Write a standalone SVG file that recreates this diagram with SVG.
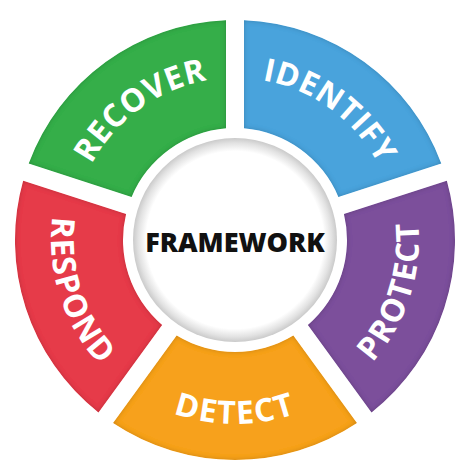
<svg xmlns="http://www.w3.org/2000/svg" width="474" height="465" viewBox="0 0 474 465">
  <defs>
    <style>
      .lbl { font-family: "Open Sans", "Noto Sans", "Liberation Sans", sans-serif; font-weight: 700; font-size: 32px; fill: #ffffff; letter-spacing: 0.5px; }
      .lbl.in { letter-spacing: 1.5px; }
      .center { font-family: "Open Sans", "Noto Sans", "Liberation Sans", sans-serif; font-weight: 800; font-size: 27px; fill: #111111; }
      .seg { filter: url(#bevel); }
    </style>
    <filter id="bevel" x="-5%" y="-5%" width="110%" height="110%">
      <feGaussianBlur in="SourceAlpha" stdDeviation="2.5" result="b"/>
      <feComposite in="SourceAlpha" in2="b" operator="arithmetic" k2="1" k3="-1" result="edge"/>
      <feFlood flood-color="#000000" flood-opacity="0.4"/>
      <feComposite in2="edge" operator="in" result="shadow"/>
      <feMerge><feMergeNode in="SourceGraphic"/><feMergeNode in="shadow"/></feMerge>
    </filter>
    <radialGradient id="hub" cx="50%" cy="50%" r="50%">
      <stop offset="0%" stop-color="#ffffff"/>
      <stop offset="87%" stop-color="#ffffff"/>
      <stop offset="95%" stop-color="#e2e2e2"/>
      <stop offset="100%" stop-color="#cacaca"/>
    </radialGradient>
    <path id="tp-identify" d="M 223.70 78.40 A 162 162 0 0 1 392.19 200.81"/>
    <path id="tp-recover" d="M 77.81 200.81 A 162 162 0 0 1 246.30 78.40"/>
    <path id="tp-protect" d="M 332.50 396.04 A 184 184 0 0 0 405.60 171.07"/>
    <path id="tp-detect" d="M 116.73 380.95 A 184 184 0 0 0 353.27 380.95"/>
    <path id="tp-respond" d="M 64.40 171.07 A 184 184 0 0 0 137.50 396.04"/>
  </defs>
  <rect width="474" height="465" fill="#ffffff"/>

  <g id="identify">
    <path class="seg" fill="#49a3dc" d="M 244.00 20.18 A 220 220 0 0 1 441.27 163.52 L 338.39 196.94 A 112 112 0 0 0 244.00 128.36 Z"/>
    <text class="lbl"><textPath href="#tp-identify" startOffset="50%" text-anchor="middle">IDENTIFY</textPath></text>
  </g>
  <g id="protect">
    <path class="seg" fill="#7b4f9b" d="M 446.84 180.64 A 220 220 0 0 1 371.52 412.52 L 307.92 325.01 A 112 112 0 0 0 343.96 214.06 Z"/>
    <text class="lbl in"><textPath href="#tp-protect" startOffset="50%" text-anchor="middle">PROTECT</textPath></text>
  </g>
  <g id="detect">
    <path class="seg" fill="#f7a11e" d="M 356.92 423.12 A 220 220 0 0 1 113.08 423.12 L 176.67 335.61 A 112 112 0 0 0 293.33 335.61 Z"/>
    <text class="lbl in"><textPath href="#tp-detect" startOffset="50%" text-anchor="middle">DETECT</textPath></text>
  </g>
  <g id="respond">
    <path class="seg" fill="#e63a48" d="M 98.48 412.52 A 220 220 0 0 1 23.16 180.64 L 126.04 214.06 A 112 112 0 0 0 162.08 325.01 Z"/>
    <text class="lbl in"><textPath href="#tp-respond" startOffset="50%" text-anchor="middle">RESPOND</textPath></text>
  </g>
  <g id="recover">
    <path class="seg" fill="#35ae4a" d="M 28.73 163.52 A 220 220 0 0 1 226.00 20.18 L 226.00 128.36 A 112 112 0 0 0 131.61 196.94 Z"/>
    <text class="lbl"><textPath href="#tp-recover" startOffset="50%" text-anchor="middle">RECOVER</textPath></text>
  </g>

  <g id="framework">
    <circle cx="235" cy="240" r="102" fill="url(#hub)"/>
    <text class="center" x="235" y="252" text-anchor="middle">FRAMEWORK</text>
  </g>
  <g id="connectors"/>
</svg>
